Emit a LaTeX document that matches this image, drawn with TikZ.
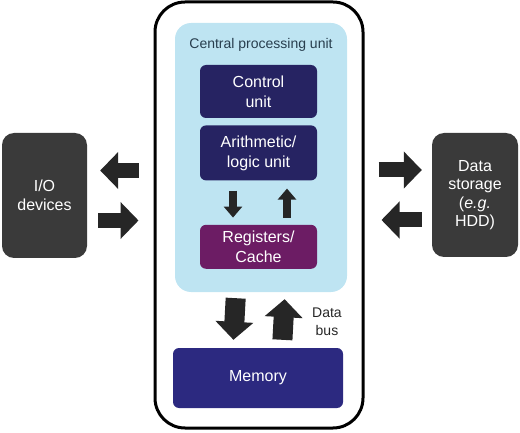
\documentclass[tikz,border=0pt]{standalone}
\usepackage{fontspec}
\setmainfont{Liberation Sans}
\usetikzlibrary{arrows.meta, positioning}
\definecolor{cpublue}{RGB}{190,228,242}
\definecolor{unitnavy}{RGB}{38,35,98}
\definecolor{memnavy}{RGB}{44,41,128}
\definecolor{regpurple}{RGB}{108,28,100}
\definecolor{devgray}{RGB}{58,58,58}
\definecolor{arrowgray}{RGB}{38,38,38}
\definecolor{labelslate}{RGB}{40,62,78}

\begin{document}
\begin{tikzpicture}[
  x=1pt, y=-1pt,
  unit box/.style = {rounded corners=6pt, text=white, align=center, inner sep=0pt,
    font=\fontsize{16}{20}\selectfont},
  device box/.style = {rounded corners=12pt, fill=devgray, text=white, align=center,
    inner sep=0pt, font=\fontsize{16}{18.5}\selectfont},
  big arrow/.style = {-{Triangle[length=18pt, width=36pt]}, line width=15pt, draw=arrowgray},
  bus arrow/.style = {-{Triangle[length=18pt, width=37pt]}, line width=20pt, draw=arrowgray},
  small arrow/.style = {-{Triangle[length=11pt, width=18pt]}, line width=8pt, draw=arrowgray}
]
  \useasboundingbox (0,0) rectangle (520,433);

  % computer and processor
  \node[draw=black, line width=3pt, rounded corners=30pt, minimum width=208pt,
    minimum height=426pt, inner sep=0pt] (computer) at (259,215) {};
  \node[fill=cpublue, rounded corners=16pt, minimum width=172pt, minimum height=269pt,
    inner sep=0pt] (cpu) at (261,157.5) {};
  \node[text=labelslate, font=\fontsize{14}{16}\selectfont] (cpulabel) at (261,45) {Central processing unit};

  \node[unit box, fill=unitnavy, minimum width=117pt, minimum height=53pt] (control) at (258.5,91.5) {Control\\unit};
  \node[unit box, fill=unitnavy, minimum width=117pt, minimum height=55pt,
    below=7pt of control] (alu) {Arithmetic/\\logic unit};
  \node[unit box, fill=regpurple, minimum width=117pt, minimum height=44pt,
    below=44pt of alu] (registers) {Registers/\\Cache};

  \draw[small arrow, shorten <=10pt, shorten >=7pt] ([xshift=-25.5pt]alu.south) -- ([xshift=-25.5pt]registers.north);
  \draw[small arrow, shorten <=7pt, shorten >=8pt] ([xshift=28.5pt]registers.north) -- ([xshift=28.5pt]alu.south);

  % memory and data bus
  \node[unit box, fill=memnavy, minimum width=170pt, minimum height=60pt] (memory) at (258,378) {Memory};
  \draw[bus arrow, shorten <=6pt, shorten >=8pt] ([xshift=-25pt]cpu.south) -- ([xshift=-25pt]memory.north);
  \draw[bus arrow, shorten <=8pt, shorten >=7pt] ([xshift=24pt]memory.north) -- ([xshift=24pt]cpu.south);
  \node[text=arrowgray, align=center, font=\fontsize{14}{18}\selectfont] (databus) at (327,322) {Data\\bus};

  % peripherals
  \node[device box, minimum width=85pt, minimum height=125pt] (io) at (44.5,195.5) {I/O\\devices};
  \node[device box, minimum width=86pt, minimum height=124pt] (storage) at (475,195) {Data\\storage\\(\textit{e.g.}\\HDD)};

  \draw[big arrow, shorten <=15pt, shorten >=13pt] ([yshift=25pt]io.east -| computer.west) -- ([yshift=25pt]io.east);
  \draw[big arrow, shorten <=11pt, shorten >=15pt] ([yshift=-25pt]io.east) -- ([yshift=-25pt]io.east -| computer.west);
  \draw[big arrow, shorten <=14pt, shorten >=10pt] ([yshift=25pt]storage.west -| computer.east) -- ([yshift=25pt]storage.west);
  \draw[big arrow, shorten <=10pt, shorten >=17pt] ([yshift=-25pt]storage.west) -- ([yshift=-25pt]storage.west -| computer.east);
\end{tikzpicture}
\end{document}
